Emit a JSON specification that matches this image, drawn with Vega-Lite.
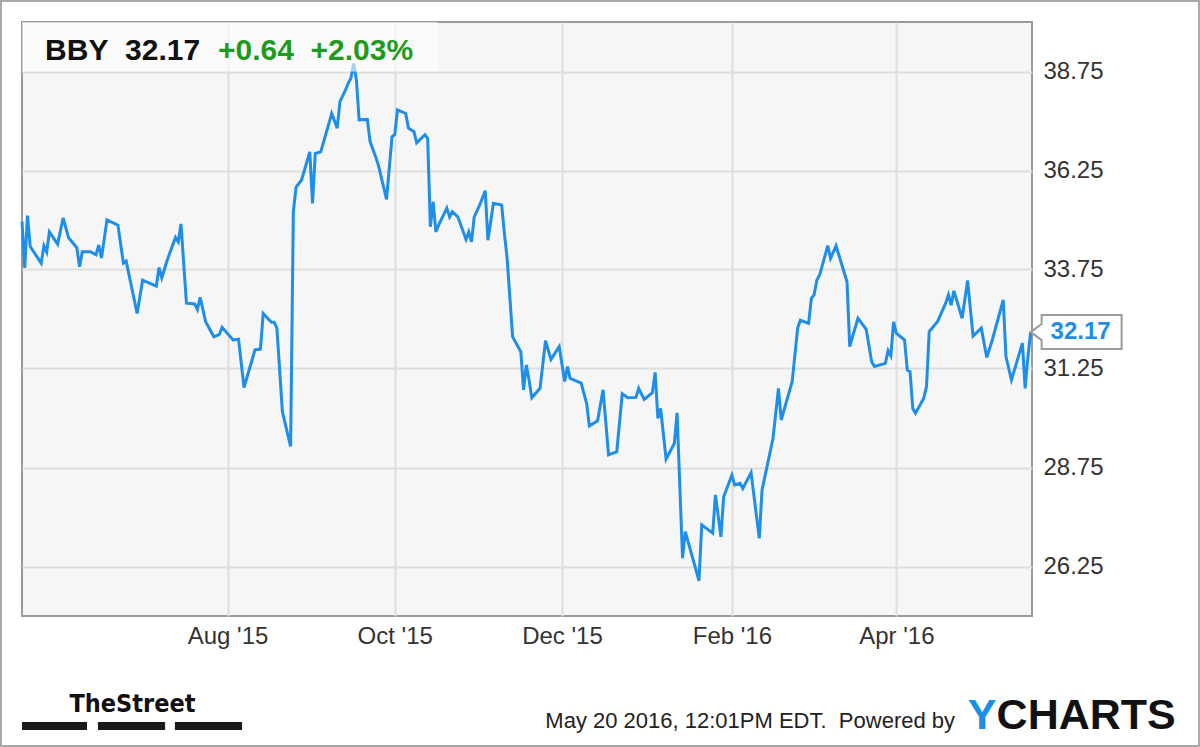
{
  "$schema": "https://vega.github.io/schema/vega-lite/v6.json",
  "width": 1010,
  "height": 594,
  "autosize": {"type": "none"},
  "padding": {"left": 22, "top": 22, "right": 168, "bottom": 131},
  "background": "white",
  "config": {
    "font": "Liberation Sans",
    "view": {"fill": "#f6f6f6", "stroke": "#9a9a9a", "strokeWidth": 2}
  },
  "data": {"values": [
    {"date": "2015-05-18", "price": 34.96}, {"date": "2015-05-19", "price": 33.79}, {"date": "2015-05-20", "price": 35.11},
    {"date": "2015-05-21", "price": 34.33}, {"date": "2015-05-25", "price": 33.91}, {"date": "2015-05-26", "price": 34.35},
    {"date": "2015-05-27", "price": 34.19}, {"date": "2015-05-28", "price": 34.70}, {"date": "2015-05-31", "price": 34.39},
    {"date": "2015-06-02", "price": 35.05}, {"date": "2015-06-04", "price": 34.55}, {"date": "2015-06-07", "price": 34.30},
    {"date": "2015-06-08", "price": 33.82}, {"date": "2015-06-09", "price": 34.20}, {"date": "2015-06-12", "price": 34.20},
    {"date": "2015-06-14", "price": 34.12}, {"date": "2015-06-15", "price": 34.37}, {"date": "2015-06-16", "price": 34.04},
    {"date": "2015-06-18", "price": 35.00}, {"date": "2015-06-22", "price": 34.87}, {"date": "2015-06-24", "price": 33.91},
    {"date": "2015-06-25", "price": 33.96}, {"date": "2015-06-29", "price": 32.64}, {"date": "2015-07-01", "price": 33.48},
    {"date": "2015-07-06", "price": 33.33}, {"date": "2015-07-07", "price": 33.80}, {"date": "2015-07-08", "price": 33.54},
    {"date": "2015-07-10", "price": 33.99}, {"date": "2015-07-13", "price": 34.56}, {"date": "2015-07-14", "price": 34.45},
    {"date": "2015-07-15", "price": 34.90}, {"date": "2015-07-17", "price": 32.90}, {"date": "2015-07-20", "price": 32.88},
    {"date": "2015-07-21", "price": 32.74}, {"date": "2015-07-22", "price": 33.05}, {"date": "2015-07-24", "price": 32.43},
    {"date": "2015-07-27", "price": 32.05}, {"date": "2015-07-29", "price": 32.11}, {"date": "2015-07-30", "price": 32.29},
    {"date": "2015-08-03", "price": 31.97}, {"date": "2015-08-05", "price": 31.99}, {"date": "2015-08-07", "price": 30.77},
    {"date": "2015-08-11", "price": 31.72}, {"date": "2015-08-13", "price": 31.74}, {"date": "2015-08-14", "price": 32.64},
    {"date": "2015-08-17", "price": 32.42}, {"date": "2015-08-18", "price": 32.42}, {"date": "2015-08-19", "price": 32.27},
    {"date": "2015-08-21", "price": 30.16}, {"date": "2015-08-24", "price": 29.28}, {"date": "2015-08-25", "price": 35.21},
    {"date": "2015-08-26", "price": 35.83}, {"date": "2015-08-28", "price": 36.01}, {"date": "2015-08-31", "price": 36.72},
    {"date": "2015-09-01", "price": 35.42}, {"date": "2015-09-02", "price": 36.68}, {"date": "2015-09-04", "price": 36.72},
    {"date": "2015-09-08", "price": 37.69}, {"date": "2015-09-10", "price": 37.32}, {"date": "2015-09-11", "price": 37.99},
    {"date": "2015-09-13", "price": 38.28}, {"date": "2015-09-14", "price": 38.45}, {"date": "2015-09-15", "price": 38.58},
    {"date": "2015-09-16", "price": 38.95}, {"date": "2015-09-17", "price": 38.54}, {"date": "2015-09-18", "price": 37.53},
    {"date": "2015-09-21", "price": 37.54}, {"date": "2015-09-22", "price": 36.98}, {"date": "2015-09-24", "price": 36.60},
    {"date": "2015-09-25", "price": 36.39}, {"date": "2015-09-28", "price": 35.52}, {"date": "2015-09-30", "price": 37.10},
    {"date": "2015-10-01", "price": 37.16}, {"date": "2015-10-02", "price": 37.78}, {"date": "2015-10-05", "price": 37.69},
    {"date": "2015-10-06", "price": 37.32}, {"date": "2015-10-08", "price": 37.23}, {"date": "2015-10-09", "price": 36.95},
    {"date": "2015-10-12", "price": 37.15}, {"date": "2015-10-13", "price": 37.06}, {"date": "2015-10-14", "price": 34.83},
    {"date": "2015-10-15", "price": 35.46}, {"date": "2015-10-16", "price": 34.70}, {"date": "2015-10-17", "price": 34.87},
    {"date": "2015-10-20", "price": 35.30}, {"date": "2015-10-21", "price": 35.08}, {"date": "2015-10-22", "price": 35.21},
    {"date": "2015-10-24", "price": 35.08}, {"date": "2015-10-27", "price": 34.51}, {"date": "2015-10-28", "price": 34.70},
    {"date": "2015-10-29", "price": 34.45}, {"date": "2015-10-30", "price": 35.08}, {"date": "2015-11-01", "price": 35.38},
    {"date": "2015-11-03", "price": 35.74}, {"date": "2015-11-04", "price": 34.49}, {"date": "2015-11-06", "price": 35.42},
    {"date": "2015-11-09", "price": 35.38}, {"date": "2015-11-10", "price": 34.66}, {"date": "2015-11-11", "price": 34.03},
    {"date": "2015-11-13", "price": 32.05}, {"date": "2015-11-16", "price": 31.67}, {"date": "2015-11-17", "price": 30.71},
    {"date": "2015-11-18", "price": 31.34}, {"date": "2015-11-19", "price": 30.96}, {"date": "2015-11-20", "price": 30.51},
    {"date": "2015-11-23", "price": 30.75}, {"date": "2015-11-25", "price": 31.95}, {"date": "2015-11-27", "price": 31.48},
    {"date": "2015-11-30", "price": 31.80}, {"date": "2015-12-02", "price": 30.92}, {"date": "2015-12-03", "price": 31.30},
    {"date": "2015-12-04", "price": 31.00}, {"date": "2015-12-08", "price": 30.88}, {"date": "2015-12-10", "price": 30.37},
    {"date": "2015-12-11", "price": 29.80}, {"date": "2015-12-14", "price": 29.93}, {"date": "2015-12-16", "price": 30.71},
    {"date": "2015-12-18", "price": 29.07}, {"date": "2015-12-21", "price": 29.15}, {"date": "2015-12-23", "price": 30.61},
    {"date": "2015-12-25", "price": 30.51}, {"date": "2015-12-28", "price": 30.52}, {"date": "2015-12-29", "price": 30.75},
    {"date": "2015-12-31", "price": 30.47}, {"date": "2016-01-03", "price": 30.64}, {"date": "2016-01-04", "price": 31.15},
    {"date": "2016-01-05", "price": 29.99}, {"date": "2016-01-06", "price": 30.24}, {"date": "2016-01-08", "price": 28.96},
    {"date": "2016-01-11", "price": 29.36}, {"date": "2016-01-12", "price": 30.13}, {"date": "2016-01-14", "price": 26.46},
    {"date": "2016-01-15", "price": 27.13}, {"date": "2016-01-20", "price": 25.89}, {"date": "2016-01-21", "price": 27.30},
    {"date": "2016-01-25", "price": 27.09}, {"date": "2016-01-26", "price": 28.06}, {"date": "2016-01-28", "price": 27.00},
    {"date": "2016-01-29", "price": 28.01}, {"date": "2016-02-01", "price": 28.56}, {"date": "2016-02-02", "price": 28.31},
    {"date": "2016-02-04", "price": 28.35}, {"date": "2016-02-05", "price": 28.22}, {"date": "2016-02-08", "price": 28.62},
    {"date": "2016-02-11", "price": 26.96}, {"date": "2016-02-12", "price": 28.18}, {"date": "2016-02-16", "price": 29.49},
    {"date": "2016-02-18", "price": 30.75}, {"date": "2016-02-19", "price": 29.95}, {"date": "2016-02-23", "price": 30.92},
    {"date": "2016-02-25", "price": 32.27}, {"date": "2016-02-26", "price": 32.47}, {"date": "2016-02-29", "price": 32.39},
    {"date": "2016-03-01", "price": 33.02}, {"date": "2016-03-02", "price": 33.11}, {"date": "2016-03-03", "price": 33.48},
    {"date": "2016-03-04", "price": 33.61}, {"date": "2016-03-07", "price": 34.35}, {"date": "2016-03-08", "price": 34.03},
    {"date": "2016-03-10", "price": 34.35}, {"date": "2016-03-14", "price": 33.44}, {"date": "2016-03-15", "price": 31.80},
    {"date": "2016-03-16", "price": 32.05}, {"date": "2016-03-18", "price": 32.52}, {"date": "2016-03-21", "price": 32.24},
    {"date": "2016-03-23", "price": 31.42}, {"date": "2016-03-24", "price": 31.30}, {"date": "2016-03-28", "price": 31.38},
    {"date": "2016-03-29", "price": 31.70}, {"date": "2016-03-30", "price": 31.57}, {"date": "2016-03-31", "price": 32.43},
    {"date": "2016-04-01", "price": 32.14}, {"date": "2016-04-04", "price": 31.97}, {"date": "2016-04-05", "price": 31.21},
    {"date": "2016-04-06", "price": 31.17}, {"date": "2016-04-07", "price": 30.24}, {"date": "2016-04-08", "price": 30.12},
    {"date": "2016-04-11", "price": 30.50}, {"date": "2016-04-12", "price": 30.79}, {"date": "2016-04-13", "price": 32.18},
    {"date": "2016-04-15", "price": 32.35}, {"date": "2016-04-16", "price": 32.43}, {"date": "2016-04-19", "price": 32.90},
    {"date": "2016-04-20", "price": 33.11}, {"date": "2016-04-21", "price": 32.85}, {"date": "2016-04-22", "price": 33.21},
    {"date": "2016-04-25", "price": 32.52}, {"date": "2016-04-27", "price": 33.47}, {"date": "2016-04-29", "price": 32.07},
    {"date": "2016-05-02", "price": 32.27}, {"date": "2016-05-04", "price": 31.53}, {"date": "2016-05-06", "price": 31.97},
    {"date": "2016-05-10", "price": 32.98}, {"date": "2016-05-11", "price": 31.55}, {"date": "2016-05-13", "price": 30.96},
    {"date": "2016-05-17", "price": 31.89}, {"date": "2016-05-18", "price": 30.75}, {"date": "2016-05-19", "price": 31.53},
    {"date": "2016-05-20", "price": 32.17}
  ]},
  "layer": [
    {
      "data": {"values": [{}]},
      "mark": {"type": "rect", "fill": null, "fillOpacity": 0, "stroke": "#a8a8a8", "strokeWidth": 2},
      "encoding": {
        "x": {"datum": {"year": 2015, "month": 5, "date": 10, "hours": 8, "utc": true}, "type": "temporal"},
        "x2": {"datum": {"year": 2016, "month": 7, "date": 20, "hours": 10, "utc": true}},
        "y": {"datum": 40.53, "type": "quantitative"},
        "y2": {"datum": 21.72}
      }
    },
    {
      "mark": {"type": "line", "color": "#1e8ee9", "strokeWidth": 3},
      "encoding": {
        "x": {
          "field": "date", "type": "temporal",
          "scale": {"type": "utc", "nice": false, "domain": [
            {"year": 2015, "month": 5, "date": 18, "utc": true},
            {"year": 2016, "month": 5, "date": 20, "hours": 12, "utc": true}
          ]},
          "axis": {
            "title": null,
            "values": [
              {"year": 2015, "month": 8, "date": 1, "utc": true},
              {"year": 2015, "month": 10, "date": 1, "utc": true},
              {"year": 2015, "month": 12, "date": 1, "utc": true},
              {"year": 2016, "month": 2, "date": 1, "utc": true},
              {"year": 2016, "month": 4, "date": 1, "utc": true}
            ],
            "labelExpr": "utcFormat(datum.value, \"%b '%y\")",
            "grid": true, "gridColor": "#dedede", "gridWidth": 2,
            "ticks": false, "domain": false,
            "labelFontSize": 24, "labelColor": "#333333", "labelPadding": 8,
            "labelFlush": false, "labelOverlap": false
          }
        },
        "y": {
          "field": "price", "type": "quantitative",
          "scale": {"domain": [25, 40], "zero": false, "nice": false},
          "axis": {
            "title": null, "orient": "right",
            "values": [26.25, 28.75, 31.25, 33.75, 36.25, 38.75],
            "format": ".2f",
            "grid": true, "gridColor": "#dedede", "gridWidth": 2,
            "ticks": false, "domain": false,
            "labelFontSize": 24, "labelColor": "#333333", "labelPadding": 11, "labelAlign": "left"
          }
        }
      }
    },
    {
      "data": {"values": [{}]},
      "mark": {"type": "rect", "fill": "white", "opacity": 0.6},
      "encoding": {
        "x": {"datum": {"year": 2015, "month": 5, "date": 18, "utc": true}, "type": "temporal"},
        "x2": {"datum": {"year": 2015, "month": 10, "date": 16, "hours": 19, "utc": true}},
        "y": {"datum": 38.75, "type": "quantitative"},
        "y2": {"datum": 40}
      }
    },
    {
      "data": {"values": [{}]},
      "mark": {"type": "text", "text": "BBY\u00a0\u00a032.17", "align": "left", "baseline": "alphabetic", "fontSize": 30, "fontWeight": "bold", "color": "#111111"},
      "encoding": {
        "x": {"datum": {"year": 2015, "month": 5, "date": 26, "hours": 10, "utc": true}, "type": "temporal"},
        "y": {"datum": 39.04, "type": "quantitative"}
      }
    },
    {
      "data": {"values": [{}]},
      "mark": {"type": "text", "text": "+0.64\u00a0\u00a0+2.03%", "align": "left", "baseline": "alphabetic", "fontSize": 30, "fontWeight": "bold", "color": "#1e9b1e"},
      "encoding": {
        "x": {"datum": {"year": 2015, "month": 7, "date": 28, "hours": 12, "utc": true}, "type": "temporal"},
        "y": {"datum": 39.04, "type": "quantitative"}
      }
    },
    {
      "data": {"values": [{}]},
      "mark": {"type": "point", "shape": "M0,0L0.275,-0.2L0.275,-0.425L2.275,-0.425L2.275,0.425L0.275,0.425L0.275,0.2Z", "size": 6400, "filled": true, "fill": "white", "stroke": "#9a9a9a", "strokeWidth": 2, "opacity": 1},
      "encoding": {
        "x": {"datum": {"year": 2016, "month": 5, "date": 20, "utc": true}, "type": "temporal"},
        "y": {"datum": 32.17, "type": "quantitative"}
      }
    },
    {
      "data": {"values": [{}]},
      "mark": {"type": "text", "text": "32.17", "align": "center", "baseline": "middle", "dx": 50, "fontSize": 24, "fontWeight": "bold", "color": "#1e8ee9"},
      "encoding": {
        "x": {"datum": {"year": 2016, "month": 5, "date": 20, "utc": true}, "type": "temporal"},
        "y": {"datum": 32.17, "type": "quantitative"}
      }
    },
    {
      "data": {"values": [{}]},
      "mark": {"type": "text", "text": "TheStreet", "align": "center", "baseline": "alphabetic", "fontSize": 25, "fontWeight": "bold", "letterSpacing": -2, "font": "DejaVu Sans Condensed", "color": "#111111"},
      "encoding": {
        "x": {"datum": {"year": 2015, "month": 6, "date": 27, "hours": 7, "utc": true}, "type": "temporal"},
        "y": {"datum": 22.58, "type": "quantitative"}
      }
    },
    {
      "data": {"values": [{}]},
      "mark": {"type": "rule", "color": "#1a1a1a", "strokeWidth": 8},
      "encoding": {
        "x": {"datum": {"year": 2015, "month": 5, "date": 18, "utc": true}, "type": "temporal"},
        "x2": {"datum": {"year": 2015, "month": 6, "date": 10, "hours": 17, "utc": true}},
        "y": {"datum": 22.22, "type": "quantitative"}
      }
    },
    {
      "data": {"values": [{}]},
      "mark": {"type": "rule", "color": "#1a1a1a", "strokeWidth": 8},
      "encoding": {
        "x": {"datum": {"year": 2015, "month": 6, "date": 14, "hours": 17, "utc": true}, "type": "temporal"},
        "x2": {"datum": {"year": 2015, "month": 7, "date": 9, "hours": 5, "utc": true}},
        "y": {"datum": 22.22, "type": "quantitative"}
      }
    },
    {
      "data": {"values": [{}]},
      "mark": {"type": "rule", "color": "#1a1a1a", "strokeWidth": 8},
      "encoding": {
        "x": {"datum": {"year": 2015, "month": 7, "date": 12, "hours": 19, "utc": true}, "type": "temporal"},
        "x2": {"datum": {"year": 2015, "month": 8, "date": 6, "hours": 7, "utc": true}},
        "y": {"datum": 22.22, "type": "quantitative"}
      }
    },
    {
      "data": {"values": [{}]},
      "mark": {"type": "text", "text": "May 20 2016, 12:01PM EDT.\u00a0 Powered by", "align": "right", "baseline": "alphabetic", "fontSize": 22, "color": "#222222"},
      "encoding": {
        "x": {"datum": {"year": 2016, "month": 4, "date": 22, "hours": 10, "utc": true}, "type": "temporal"},
        "y": {"datum": 22.17, "type": "quantitative"}
      }
    },
    {
      "data": {"values": [{}]},
      "mark": {"type": "text", "text": "Y", "align": "left", "baseline": "alphabetic", "fontSize": 43, "fontWeight": "bold", "color": "#1a8fe3"},
      "encoding": {
        "x": {"datum": {"year": 2016, "month": 4, "date": 27, "hours": 2, "utc": true}, "type": "temporal"},
        "y": {"datum": 22.15, "type": "quantitative"}
      }
    },
    {
      "data": {"values": [{}]},
      "mark": {"type": "text", "text": "CHARTS", "align": "left", "baseline": "alphabetic", "fontSize": 43, "fontWeight": "bold", "color": "#111111"},
      "encoding": {
        "x": {"datum": {"year": 2016, "month": 5, "date": 7, "hours": 14, "utc": true}, "type": "temporal"},
        "y": {"datum": 22.15, "type": "quantitative"}
      }
    }
  ]
}
